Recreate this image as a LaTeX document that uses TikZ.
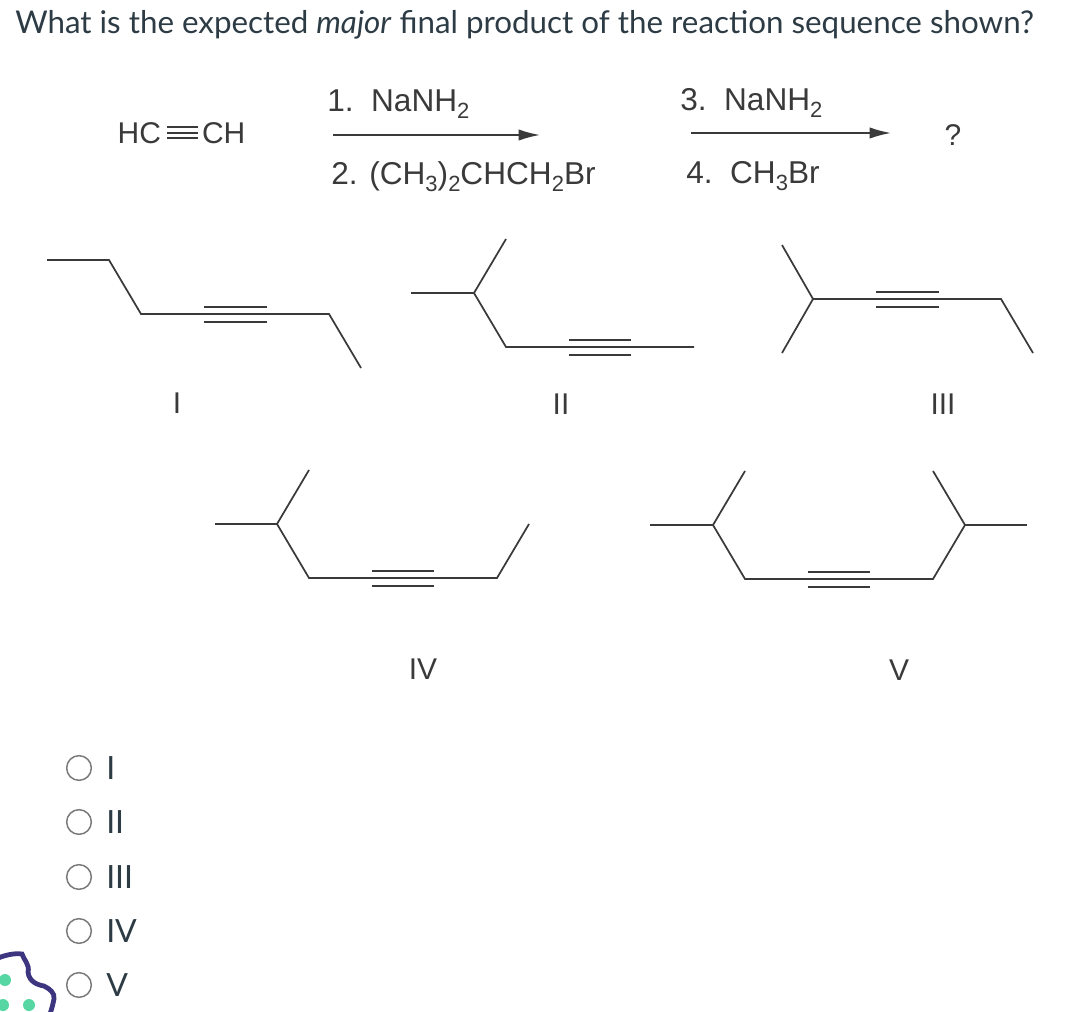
\documentclass[tikz,border=0pt]{standalone}
\usepackage{fontspec}
\setmainfont{Lato}
\newfontfamily\chemfont{Liberation Sans}
\usetikzlibrary{arrows.meta}
\definecolor{quiztext}{HTML}{2D3B45}
\definecolor{chemgray}{HTML}{3A3A3A}
\definecolor{mascotblue}{HTML}{3D3580}
\definecolor{mascotgreen}{HTML}{55D6A2}
\newcommand{\chemsub}[1]{\raisebox{-0.22em}{\fontsize{16.5}{18}\selectfont #1}}
\tikzset{
  bond/.style={line width=1.3pt, chemgray},
  chemtext/.style={font=\chemfont\fontsize{22.5}{24}\selectfont, chemgray, inner sep=0pt},
  reagent/.style={font=\chemfont\fontsize{23.7}{26}\selectfont, chemgray, inner sep=0pt, anchor=base west},
  choicetext/.style={font=\fontsize{24}{28}\selectfont, quiztext, inner sep=0pt, anchor=west},
  radio/.style={circle, draw=gray!95!black, line width=1.1pt, minimum size=18.5pt, inner sep=0pt}
}
\begin{document}
\begin{tikzpicture}[x=0.75pt, y=-0.75pt]
  \useasboundingbox (0,0) rectangle (1066,1012);

  % Question
  \node[font=\fontsize{23.5}{27}\selectfont, text=quiztext, inner sep=0pt, anchor=west] (question) at (15,25)
    {What is the expected \textit{major} final product of the reaction sequence shown?};

  % Reaction
  \node[chemtext] (start) at (181.5,133) {HC\kern1.37em CH};
  \draw[line width=1pt, chemgray] (167,127) -- (198,127);
  \draw[line width=1pt, chemgray] (167,133) -- (198,133);
  \draw[line width=1pt, chemgray] (167,138) -- (198,138);

  \coordinate (stepa) at (333,135);
  \coordinate (stepb) at (540,135);
  \coordinate (stepc) at (691,133);
  \coordinate (stepd) at (891,133);
  \draw[line width=1.3pt, chemgray, -{Latex[length=16pt,width=8.5pt]}] (stepa) -- (stepb);
  \draw[line width=1.3pt, chemgray, -{Latex[length=16pt,width=8.5pt]}] (stepc) -- (stepd);
  \node[reagent] (reagenta) at (327,112) {1.\ \ NaNH\chemsub{2}};
  \node[reagent] (reagentb) at (331,185) {2. (CH\chemsub{3})\chemsub{2}CHCH\chemsub{2}Br};
  \node[reagent] (reagentc) at (680,111) {3.\ \ NaNH\chemsub{2}};
  \node[reagent] (reagentd) at (686,184) {4.\ \ CH\chemsub{3}Br};
  \node[chemtext] (unknown) at (953,135) {?};

  % I
  \draw[bond] (47,260) -- (109,260) -- (141,314) -- (329,314) -- (361,368);
  \draw[bond] (204,307) -- (267,307) (204,322) -- (267,322);
  \node[chemtext] (labeli) at (177,403) {I};

  % II
  \draw[bond] (411,293) -- (474,293);
  \draw[bond] (506,239) -- (474,293) -- (506,347) -- (694,347);
  \draw[bond] (569,340) -- (631,340) (569,355) -- (631,355);
  \node[chemtext] (labelii) at (561,404) {II};

  % III
  \draw[bond] (782,245) -- (813,299) -- (782,353);
  \draw[bond] (813,299) -- (1001,299) -- (1033,353);
  \draw[bond] (876,292) -- (939,292) (876,307) -- (939,307);
  \node[chemtext] (labeliii) at (943,404) {III};

  % IV
  \draw[bond] (215,524) -- (277,524);
  \draw[bond] (309,470) -- (277,524) -- (309,578) -- (497,578) -- (529,524);
  \draw[bond] (372,571) -- (434,571) (372,586) -- (434,586);
  \node[chemtext] (labeliv) at (423,669) {IV};

  % V
  \draw[bond] (650,525) -- (713,525);
  \draw[bond] (745,471) -- (713,525) -- (745,579) -- (933,579) -- (965,525) -- (933,471);
  \draw[bond] (965,525) -- (1027,525);
  \draw[bond] (808,572) -- (870,572) (808,587) -- (870,587);
  \node[chemtext] (labelv) at (899,670) {V};

  % Choices
  \foreach \name/\ypos/\txt in {a/768/I, b/822/II, c/877/III, d/931/IV, e/985/V} {
    \node[radio] (radio\name) at (79,\ypos) {};
    \node[choicetext] (choice\name) at (106,\ypos) {\txt};
  }

  % Mascot
  \draw[mascotblue, line width=3.6pt, line cap=round] (-2,958) .. controls (6,955) and (14,953) .. (22,954)
    .. controls (24,960) and (30,965) .. (28,972) .. controls (29,982) and (38,985) .. (44,986)
    .. controls (50,989) and (55,993) .. (54,999) .. controls (53,1004) and (52,1008) .. (50,1014);
  \fill[mascotgreen] (5,980) circle (4.5pt);
  \fill[mascotgreen] (3,1005) circle (4.5pt);
  \fill[mascotgreen] (29,1005) circle (4.5pt);
\end{tikzpicture}
\end{document}
